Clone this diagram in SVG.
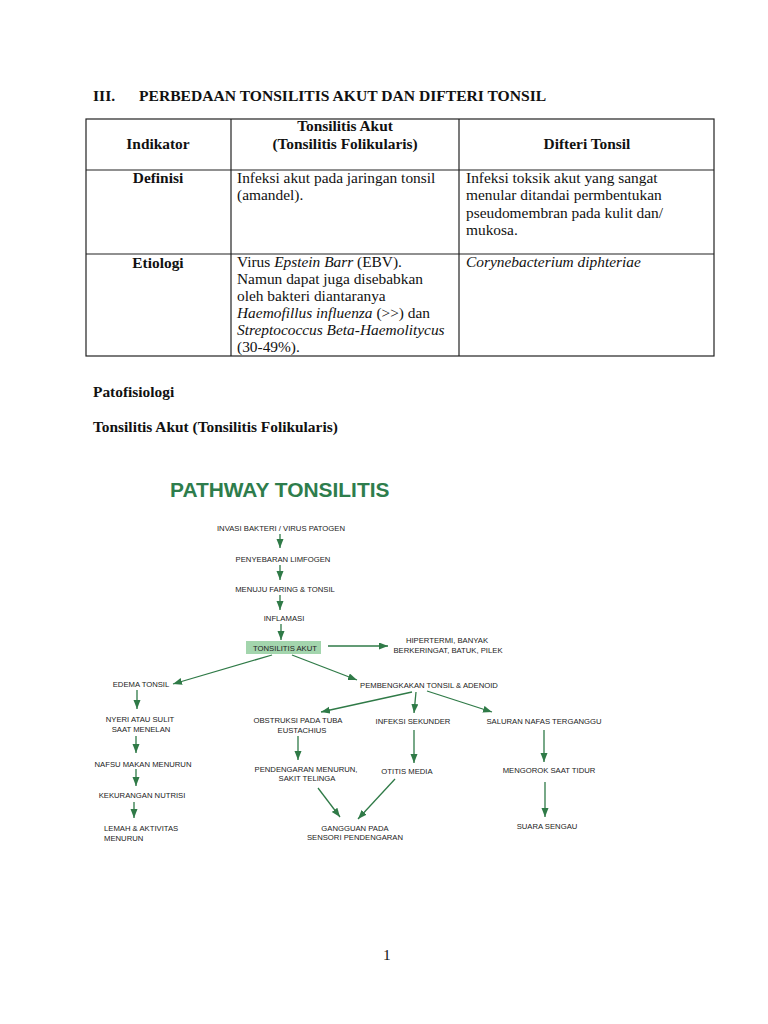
<svg xmlns="http://www.w3.org/2000/svg" width="768" height="1024" viewBox="0 0 768 1024">
<style>
.doc{font-family:"Liberation Serif","Times New Roman",serif;font-size:15.4px;fill:#111}
.hd{font-size:15.6px}
.b{font-weight:bold}
.i{font-style:italic}
.c{text-anchor:middle}
.tl{stroke:#222;stroke-width:1.2;fill:none}
.pt{font-family:"Liberation Sans",Arial,sans-serif;font-size:7.7px;fill:#222;text-anchor:middle}
.ttl{font-family:"Liberation Sans",Arial,sans-serif;font-size:20.9px;font-weight:bold;fill:#2e7d4c}
.ar{stroke:#2f7a47;stroke-width:1.3;fill:none;marker-end:url(#ah)}
</style>
<defs>
<marker id="ah" markerUnits="userSpaceOnUse" markerWidth="10" markerHeight="8" refX="9" refY="3.5" orient="auto">
<path d="M0,0 L9,3.5 L0,7 Z" fill="#2f7a47"/>
</marker>
</defs>
<rect width="768" height="1024" fill="#fff"/>
<g id="heading">
<text class="doc hd b" x="93" y="101">III.</text>
<text class="doc hd b" x="139" y="101">PERBEDAAN TONSILITIS AKUT DAN DIFTERI TONSIL</text>
</g>
<g id="table">
<rect class="tl" x="86" y="119" width="628" height="237"/>
<line class="tl" x1="231" y1="119" x2="231" y2="356"/>
<line class="tl" x1="459" y1="119" x2="459" y2="356"/>
<line class="tl" x1="86" y1="170" x2="714" y2="170"/>
<line class="tl" x1="86" y1="254" x2="714" y2="254"/>
<text class="doc b c" x="158" y="149">Indikator</text>
<text class="doc b c" x="345" y="131">Tonsilitis Akut</text>
<text class="doc b c" x="345" y="149">(Tonsilitis Folikularis)</text>
<text class="doc b c" x="587" y="149">Difteri Tonsil</text>
<text class="doc b c" x="158" y="183">Definisi</text>
<text class="doc" x="237" y="183">Infeksi akut pada jaringan tonsil</text>
<text class="doc" x="237" y="200">(amandel).</text>
<text class="doc" x="466" y="183">Infeksi toksik akut yang sangat</text>
<text class="doc" x="466" y="200">menular ditandai permbentukan</text>
<text class="doc" x="466" y="218">pseudomembran pada kulit dan/</text>
<text class="doc" x="466" y="235">mukosa.</text>
<text class="doc b c" x="158" y="268">Etiologi</text>
<text class="doc" x="237" y="267">Virus <tspan class="i">Epstein Barr</tspan> (EBV).</text>
<text class="doc" x="237" y="284">Namun dapat juga disebabkan</text>
<text class="doc" x="237" y="301">oleh bakteri diantaranya</text>
<text class="doc" x="237" y="318"><tspan class="i">Haemofillus influenza</tspan> (&gt;&gt;) dan</text>
<text class="doc" x="237" y="335"><tspan class="i">Streptococcus Beta-Haemolitycus</tspan></text>
<text class="doc" x="237" y="352">(30-49%).</text>
<text class="doc i" x="466" y="267">Corynebacterium diphteriae</text>
</g>
<g id="subheadings">
<text class="doc b" x="93" y="397">Patofisiologi</text>
<text class="doc b" x="93" y="432">Tonsilitis Akut (Tonsilitis Folikularis)</text>
</g>
<g id="pathway-title"><text class="ttl" x="170" y="497">PATHWAY TONSILITIS</text></g>
<g id="n-invasi"><text class="pt" x="281" y="531">INVASI BAKTERI / VIRUS PATOGEN</text></g>
<g id="n-penyebaran"><text class="pt" x="283" y="562">PENYEBARAN LIMFOGEN</text></g>
<g id="n-menuju"><text class="pt" x="285" y="592">MENUJU FARING &amp; TONSIL</text></g>
<g id="n-inflamasi"><text class="pt" x="284" y="621">INFLAMASI</text></g>
<g id="n-tonsilitis"><rect x="246" y="641" width="75" height="13" fill="#a3d5ad"/><text class="pt" x="285" y="651">TONSILITIS AKUT</text></g>
<g id="n-hipertermi"><text class="pt" x="447" y="643">HIPERTERMI, BANYAK</text><text class="pt" x="448" y="653">BERKERINGAT, BATUK, PILEK</text></g>
<g id="n-edema"><text class="pt" x="141" y="687">EDEMA TONSIL</text></g>
<g id="n-pembengkakan"><text class="pt" x="429" y="688">PEMBENGKAKAN TONSIL &amp; ADENOID</text></g>
<g id="n-nyeri"><text class="pt" x="140" y="722">NYERI ATAU SULIT</text><text class="pt" x="141" y="732">SAAT MENELAN</text></g>
<g id="n-nafsu"><text class="pt" x="143" y="767">NAFSU MAKAN MENURUN</text></g>
<g id="n-kekurangan"><text class="pt" x="142" y="798">KEKURANGAN NUTRISI</text></g>
<g id="n-lemah"><text class="pt" x="104" y="831" style="text-anchor:start">LEMAH &amp; AKTIVITAS</text><text class="pt" x="104" y="841" style="text-anchor:start">MENURUN</text></g>
<g id="n-obstruksi"><text class="pt" x="298" y="723">OBSTRUKSI PADA TUBA</text><text class="pt" x="302" y="733">EUSTACHIUS</text></g>
<g id="n-infeksi"><text class="pt" x="413" y="724">INFEKSI SEKUNDER</text></g>
<g id="n-saluran"><text class="pt" x="544" y="724">SALURAN NAFAS TERGANGGU</text></g>
<g id="n-pendengaran"><text class="pt" x="306" y="772">PENDENGARAN MENURUN,</text><text class="pt" x="307" y="781">SAKIT TELINGA</text></g>
<g id="n-otitis"><text class="pt" x="407" y="774">OTITIS MEDIA</text></g>
<g id="n-mengorok"><text class="pt" x="549" y="773">MENGOROK SAAT TIDUR</text></g>
<g id="n-gangguan"><text class="pt" x="355" y="831">GANGGUAN PADA</text><text class="pt" x="355" y="840">SENSORI PENDENGARAN</text></g>
<g id="n-suara"><text class="pt" x="547" y="829">SUARA SENGAU</text></g>
<g id="connectors">
<line class="ar" x1="280" y1="534" x2="280" y2="548"/>
<line class="ar" x1="280" y1="565" x2="280" y2="580"/>
<line class="ar" x1="280" y1="595" x2="280" y2="610"/>
<line class="ar" x1="281" y1="624" x2="281" y2="640"/>
<line class="ar" x1="328" y1="646" x2="388" y2="646"/>
<line class="ar" x1="272" y1="655" x2="173" y2="684"/>
<line class="ar" x1="292" y1="655" x2="357" y2="680"/>
<line class="ar" x1="137" y1="690" x2="137" y2="709"/>
<line class="ar" x1="136" y1="736" x2="136" y2="753"/>
<line class="ar" x1="136" y1="769" x2="136" y2="786"/>
<line class="ar" x1="134" y1="802" x2="134" y2="818"/>
<line class="ar" x1="412" y1="692" x2="321" y2="712"/>
<line class="ar" x1="416" y1="692" x2="414" y2="713"/>
<line class="ar" x1="427" y1="691" x2="492" y2="712"/>
<line class="ar" x1="298" y1="736" x2="298" y2="760"/>
<line class="ar" x1="414" y1="730" x2="414" y2="763"/>
<line class="ar" x1="318" y1="788" x2="340" y2="817"/>
<line class="ar" x1="395" y1="779" x2="358" y2="819"/>
<line class="ar" x1="544" y1="730" x2="544" y2="762"/>
<line class="ar" x1="545" y1="782" x2="545" y2="817"/>
</g>
<g id="page-number"><text class="doc" x="383" y="960">1</text></g>
</svg>
